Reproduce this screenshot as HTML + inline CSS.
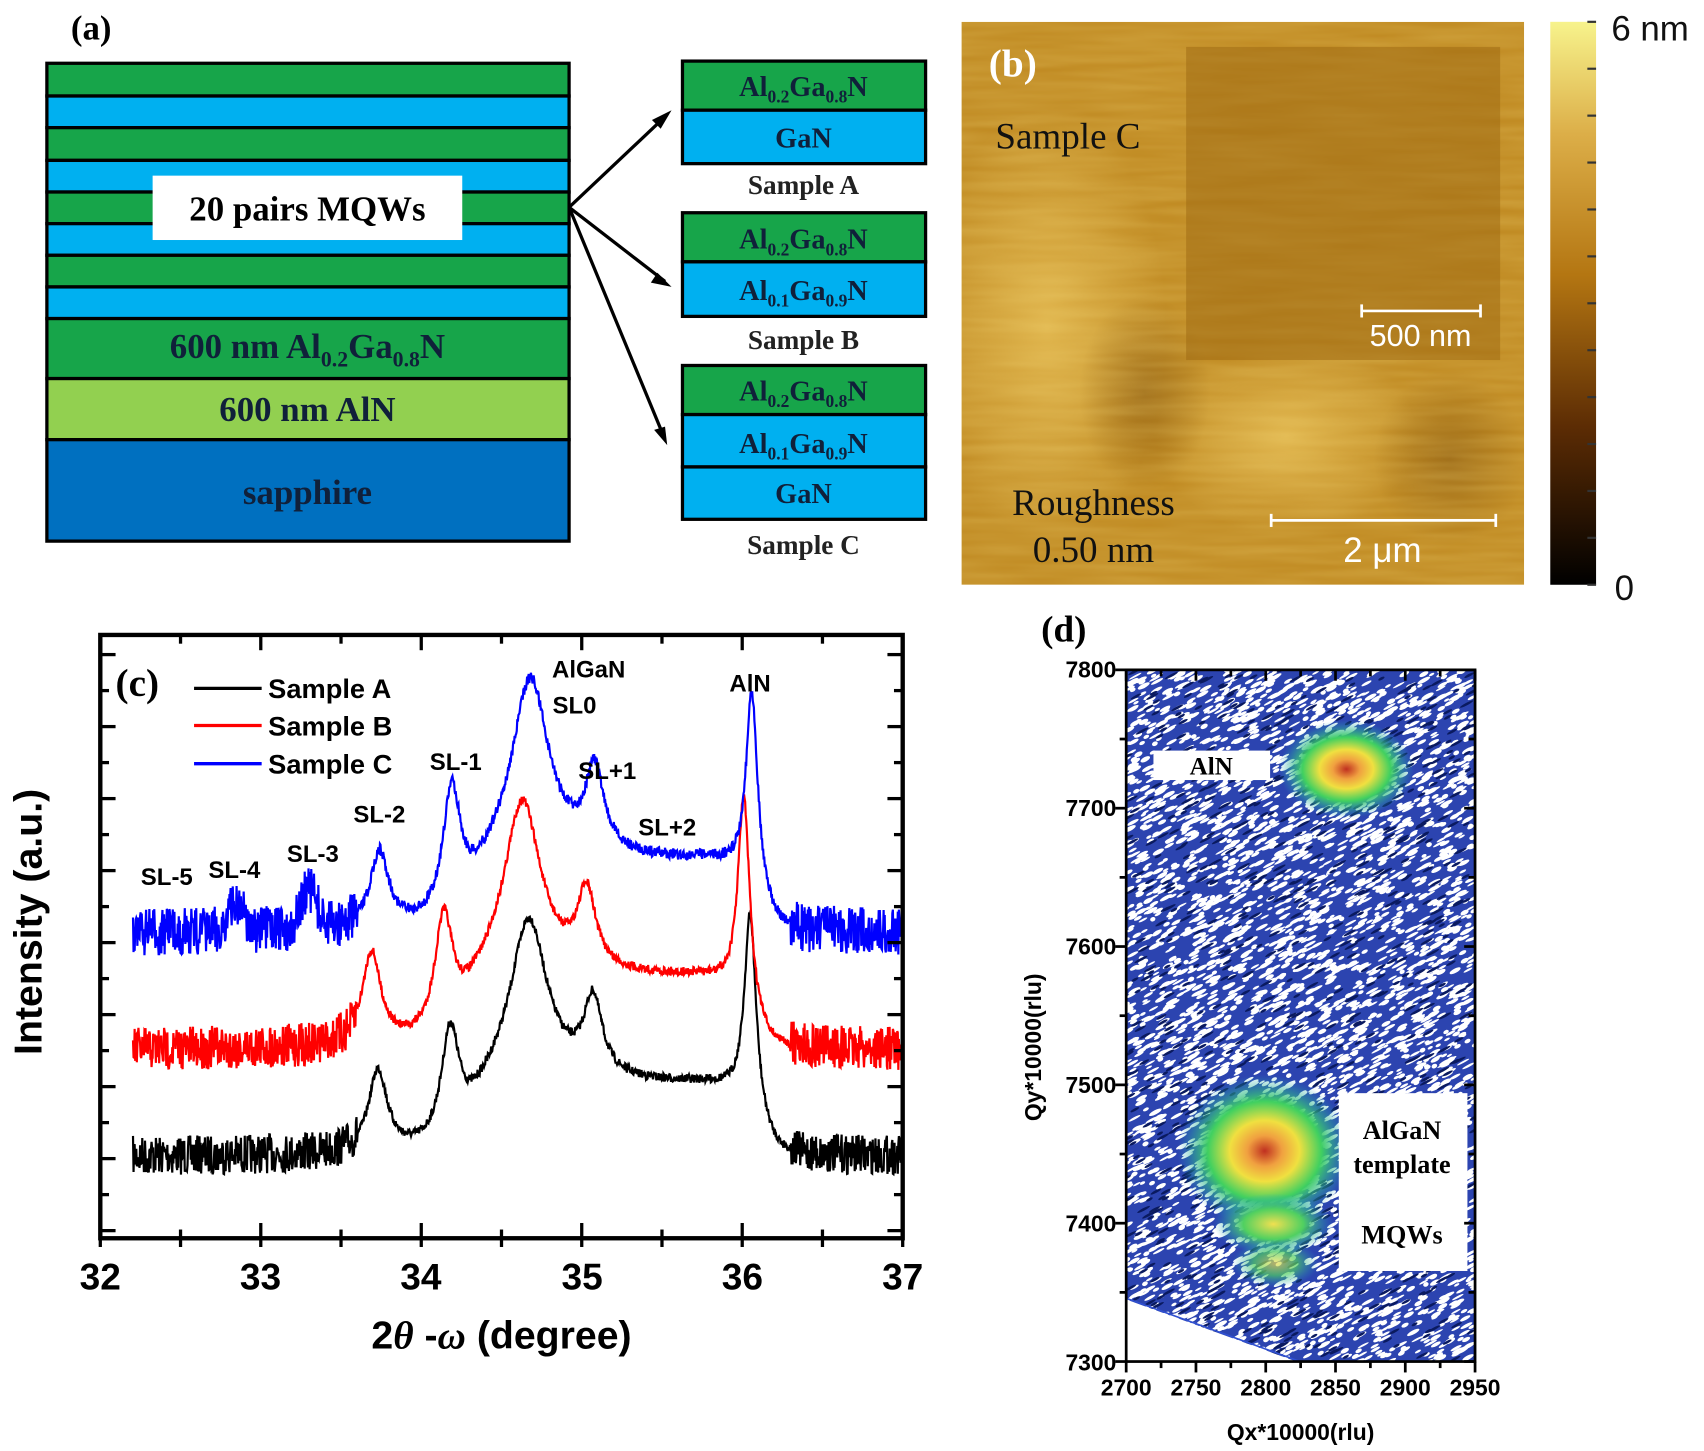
<!DOCTYPE html>
<html><head><meta charset="utf-8"><style>
html,body{margin:0;padding:0;background:#fff;}
svg{display:block}
.sf{font-family:"Liberation Serif",serif;font-weight:bold}
.ss{font-family:"Liberation Sans",sans-serif;font-weight:bold}
</style></head><body>
<svg id="s" width="1704" height="1451" viewBox="0 0 1563 1330" preserveAspectRatio="none" xmlns="http://www.w3.org/2000/svg">
<defs>
<linearGradient id="cb" x1="0" y1="0" x2="0" y2="1">
<stop offset="0" stop-color="#f7f38c"/><stop offset="0.2" stop-color="#dcae48"/><stop offset="0.45" stop-color="#b47612"/><stop offset="0.72" stop-color="#5c2c04"/><stop offset="1" stop-color="#000"/>
</linearGradient>
<radialGradient id="lt"><stop offset="0" stop-color="#e8c058" stop-opacity="0.8"/><stop offset="1" stop-color="#e8c058" stop-opacity="0"/></radialGradient>
<radialGradient id="dk"><stop offset="0" stop-color="#7a4a08" stop-opacity="0.5"/><stop offset="1" stop-color="#7a4a08" stop-opacity="0"/></radialGradient>
<radialGradient id="hs"><stop offset="0" stop-color="#c03020"/><stop offset="0.2" stop-color="#f0a040"/><stop offset="0.4" stop-color="#f0e040"/><stop offset="0.65" stop-color="#40d060"/><stop offset="1" stop-color="#20a0c0" stop-opacity="0"/></radialGradient>
<radialGradient id="hg"><stop offset="0" stop-color="#f0e050"/><stop offset="0.5" stop-color="#50d060"/><stop offset="1" stop-color="#20a0c0" stop-opacity="0"/></radialGradient>
<filter id="tb" filterUnits="userSpaceOnUse" x="882" y="20" width="516" height="516"><feTurbulence type="fractalNoise" baseFrequency="0.01 0.12" numOctaves="2" seed="3"/><feColorMatrix values="0 0 0 0 0.9  0 0 0 0 0.7  0 0 0 0 0.2  0 0 0 0.35 -0.05"/></filter>
<clipPath id="dclip"><rect x="1033" y="614" width="320" height="634"/></clipPath>
<clipPath id="bclip"><rect x="882" y="20" width="516" height="516"/></clipPath>
</defs>

<!-- Panel a -->
<text x="65" y="36" class="sf" font-size="32">(a)</text>
<g stroke="#000" stroke-width="3">
<rect x="43" y="58" width="479" height="30" fill="#17a54a"/>
<rect x="43" y="88" width="479" height="29" fill="#00b0f0"/>
<rect x="43" y="117" width="479" height="30" fill="#17a54a"/>
<rect x="43" y="147" width="479" height="29" fill="#00b0f0"/>
<rect x="43" y="176" width="479" height="29" fill="#17a54a"/>
<rect x="43" y="205" width="479" height="29" fill="#00b0f0"/>
<rect x="43" y="234" width="479" height="29" fill="#17a54a"/>
<rect x="43" y="263" width="479" height="29" fill="#00b0f0"/>
<rect x="43" y="292" width="479" height="55" fill="#17a54a"/>
<rect x="43" y="347" width="479" height="56" fill="#92d050"/>
<rect x="43" y="403" width="479" height="93" fill="#0070c0"/>
</g>
<rect x="140" y="161" width="284" height="59" fill="#fff"/>
<text x="282" y="202" class="sf" font-size="32" text-anchor="middle">20 pairs MQWs</text>
<text x="282" y="328" class="sf" font-size="32" text-anchor="middle" fill="#10203a">600 nm Al<tspan font-size="20" dy="8">0.2</tspan><tspan dy="-8">Ga</tspan><tspan font-size="20" dy="8">0.8</tspan><tspan dy="-8">N</tspan></text>
<text x="282" y="386" class="sf" font-size="32" text-anchor="middle" fill="#10203a">600 nm AlN</text>
<text x="282" y="462" class="sf" font-size="32" text-anchor="middle" fill="#10203a">sapphire</text>
<g stroke="#000" stroke-width="3" fill="none">
<line x1="522" y1="190" x2="610" y2="107"/><line x1="522" y1="190" x2="610" y2="258"/><line x1="522" y1="190" x2="608" y2="398"/>
</g>
<g fill="#000">
<polygon points="616,101 598,110 606,118"/><polygon points="616,263 597,259 603,250"/><polygon points="612,408 600,394 610,391"/>
</g>
<g stroke="#000" stroke-width="3">
<rect x="626" y="56" width="223" height="45" fill="#17a54a"/><rect x="626" y="101" width="223" height="49" fill="#00b0f0"/>
<rect x="626" y="195" width="223" height="45" fill="#17a54a"/><rect x="626" y="240" width="223" height="50" fill="#00b0f0"/>
<rect x="626" y="335" width="223" height="45" fill="#17a54a"/><rect x="626" y="380" width="223" height="48" fill="#00b0f0"/><rect x="626" y="428" width="223" height="48" fill="#00b0f0"/>
</g>
<g class="sf" font-size="26" text-anchor="middle" fill="#10203a">
<text x="737" y="88">Al<tspan font-size="16" dy="6">0.2</tspan><tspan dy="-6">Ga</tspan><tspan font-size="16" dy="6">0.8</tspan><tspan dy="-6">N</tspan></text>
<text x="737" y="135">GaN</text>
<text x="737" y="228">Al<tspan font-size="16" dy="6">0.2</tspan><tspan dy="-6">Ga</tspan><tspan font-size="16" dy="6">0.8</tspan><tspan dy="-6">N</tspan></text>
<text x="737" y="275">Al<tspan font-size="16" dy="6">0.1</tspan><tspan dy="-6">Ga</tspan><tspan font-size="16" dy="6">0.9</tspan><tspan dy="-6">N</tspan></text>
<text x="737" y="367">Al<tspan font-size="16" dy="6">0.2</tspan><tspan dy="-6">Ga</tspan><tspan font-size="16" dy="6">0.8</tspan><tspan dy="-6">N</tspan></text>
<text x="737" y="415">Al<tspan font-size="16" dy="6">0.1</tspan><tspan dy="-6">Ga</tspan><tspan font-size="16" dy="6">0.9</tspan><tspan dy="-6">N</tspan></text>
<text x="737" y="461">GaN</text>
</g>
<g class="sf" font-size="25" text-anchor="middle" fill="#222">
<text x="737" y="178">Sample A</text><text x="737" y="320">Sample B</text><text x="737" y="508">Sample C</text>
</g>

<!-- Panel b -->
<g clip-path="url(#bclip)">
<rect x="882" y="20" width="516" height="516" fill="#c08a22"/>
<ellipse cx="960" cy="300" rx="110" ry="200" fill="url(#lt)"/>
<ellipse cx="1180" cy="400" rx="120" ry="90" fill="url(#lt)"/>
<ellipse cx="1330" cy="420" rx="70" ry="80" fill="url(#dk)"/>
<ellipse cx="1050" cy="360" rx="60" ry="90" fill="url(#dk)"/>
<rect x="882" y="20" width="516" height="516" filter="url(#tb)"/>
<rect x="1088" y="43" width="288" height="287" fill="#9c6812" opacity="0.5"/>
</g>
<text x="907" y="70" class="sf" font-size="36" fill="#fff">(b)</text>
<text x="913" y="136" font-family="Liberation Serif,serif" font-size="34" fill="#111">Sample C</text>
<text x="1003" y="472" font-family="Liberation Serif,serif" font-size="34" fill="#111" text-anchor="middle">Roughness</text>
<text x="1003" y="515" font-family="Liberation Serif,serif" font-size="34" fill="#111" text-anchor="middle">0.50 nm</text>
<g stroke="#fff" stroke-width="2.5"><line x1="1249" y1="285" x2="1358" y2="285"/><line x1="1249" y1="279" x2="1249" y2="291"/><line x1="1358" y1="279" x2="1358" y2="291"/>
<line x1="1166" y1="477" x2="1372" y2="477"/><line x1="1166" y1="471" x2="1166" y2="483"/><line x1="1372" y1="471" x2="1372" y2="483"/></g>
<text x="1303" y="317" font-family="Liberation Sans,sans-serif" font-size="28" fill="#fff" text-anchor="middle">500 nm</text>
<text x="1268" y="515" font-family="Liberation Sans,sans-serif" font-size="32" fill="#fff" text-anchor="middle">2 μm</text>
<rect x="1422" y="20" width="42" height="516" fill="url(#cb)"/>
<g id="cbt" stroke="#333" stroke-width="2"></g>
<text x="1478" y="37" font-family="Liberation Sans,sans-serif" font-size="32" fill="#111">6 nm</text>
<text x="1481" y="550" font-family="Liberation Sans,sans-serif" font-size="32" fill="#111">0</text>

<!-- Panel c -->
<g id="curves" fill="none" stroke-width="2"></g>
<rect x="92" y="582" width="736" height="553" fill="none" stroke="#000" stroke-width="4"/>
<g id="cticks" stroke="#000" stroke-width="3"></g>
<g class="ss" font-size="34" text-anchor="middle">
<text x="92" y="1182">32</text><text x="239" y="1182">33</text><text x="386" y="1182">34</text><text x="534" y="1182">35</text><text x="681" y="1182">36</text><text x="828" y="1182">37</text>
</g>
<text x="460" y="1236" class="ss" font-size="36" text-anchor="middle">2<tspan font-family="Liberation Serif,serif" font-style="italic">θ</tspan> -<tspan font-family="Liberation Serif,serif" font-style="italic">ω</tspan> (degree)</text>
<text transform="translate(38,845) rotate(-90)" class="ss" font-size="36" text-anchor="middle">Intensity (a.u.)</text>
<text x="106" y="638" class="sf" font-size="36">(c)</text>
<g stroke-width="3"><line x1="178" y1="631" x2="240" y2="631" stroke="#000"/><line x1="178" y1="665" x2="240" y2="665" stroke="#f00"/><line x1="178" y1="700" x2="240" y2="700" stroke="#00f"/></g>
<g class="ss" font-size="25"><text x="246" y="640">Sample A</text><text x="246" y="674">Sample B</text><text x="246" y="709">Sample C</text></g>
<g class="ss" font-size="22" text-anchor="middle">
<text x="153" y="811">SL-5</text><text x="215" y="805">SL-4</text><text x="287" y="790">SL-3</text><text x="348" y="754">SL-2</text><text x="418" y="706">SL-1</text><text x="540" y="621">AlGaN</text><text x="527" y="654">SL0</text><text x="557" y="714">SL+1</text><text x="612" y="766">SL+2</text><text x="688" y="634">AlN</text>
</g>

<!-- Panel d -->
<text x="955" y="588" class="sf" font-size="34">(d)</text>
<g clip-path="url(#dclip)">
<rect x="1033" y="614" width="320" height="634" fill="#2c44b0"/>
<g id="rsm"></g>
<ellipse cx="1235" cy="705" rx="62" ry="45" fill="url(#hs)"/>
<ellipse cx="1160" cy="1055" rx="80" ry="70" fill="url(#hs)"/>
<ellipse cx="1168" cy="1122" rx="55" ry="28" fill="url(#hg)"/>
<ellipse cx="1170" cy="1158" rx="40" ry="22" fill="url(#hg)" opacity="0.7"/>
<polygon points="1030,1190 1200,1252 1030,1252" fill="#fff"/>
<line x1="1033" y1="1190" x2="1198" y2="1250" stroke="#3050d0" stroke-width="1.5"/>
</g>
<rect x="1058" y="688" width="107" height="27" fill="#fff"/>
<text x="1111" y="710" class="sf" font-size="23" text-anchor="middle">AlN</text>
<rect x="1228" y="1002" width="118" height="163" fill="#fff"/>
<g class="sf" font-size="24" text-anchor="middle"><text x="1286" y="1044">AlGaN</text><text x="1286" y="1075">template</text><text x="1286" y="1140">MQWs</text></g>
<rect x="1033" y="614" width="320" height="634" fill="none" stroke="#000" stroke-width="2.5"/>
<g id="dticks" stroke="#000" stroke-width="2.5"></g>
<g class="ss" font-size="21" text-anchor="end">
<text x="1024" y="621">7800</text><text x="1024" y="748">7700</text><text x="1024" y="875">7600</text><text x="1024" y="1002">7500</text><text x="1024" y="1129">7400</text><text x="1024" y="1256">7300</text>
</g>
<g class="ss" font-size="21" text-anchor="middle">
<text x="1033" y="1279">2700</text><text x="1097" y="1279">2750</text><text x="1161" y="1279">2800</text><text x="1225" y="1279">2850</text><text x="1289" y="1279">2900</text><text x="1353" y="1279">2950</text>
</g>
<text x="1193" y="1320" class="ss" font-size="21" text-anchor="middle">Qx*10000(rlu)</text>
<text transform="translate(955,960) rotate(-90)" class="ss" font-size="21" text-anchor="middle">Qy*10000(rlu)</text>
</svg>
<script>
var NS="http://www.w3.org/2000/svg";
function el(p,t,a){var e=document.createElementNS(NS,t);for(var k in a)e.setAttribute(k,a[k]);p.appendChild(e);return e;}
var seed=7;function rnd(){seed=(seed*16807)%2147483647;return seed/2147483647;}
var g=document.getElementById('cbt');
for(var i=0;i<=12;i++){var y=20+i*43;el(g,'line',{x1:1456,x2:1464,y1:y,y2:y});}
var ct=document.getElementById('cticks');
for(var v=32;v<=37.001;v+=0.5){var x=92+(v-32)*147.2;var L=(Math.abs(v-Math.round(v))<0.01)?14:8;el(ct,'line',{x1:x,x2:x,y1:1135,y2:1135-L});el(ct,'line',{x1:x,x2:x,y1:1135,y2:1143});el(ct,'line',{x1:x,x2:x,y1:582,y2:582+L});}
for(var y=600;y<1135;y+=33){var L=(Math.round((y-600)/33)%2==0)?14:8;el(ct,'line',{x1:92,x2:92+L,y1:y,y2:y});el(ct,'line',{x1:828,x2:828-L,y1:y,y2:y});}
function lor(x,x0,h,w){var d=(x-x0)/w;return h/(1+d*d);}
function curve(base,sh,P,hump,col,noiseLo,noiseHi,riseAt,bumps){
 var d="";
 for(var px=122;px<=826;px+=0.5){
  var x=32+(px-92)/147.2;
  var y=base;
  y-=hump*Math.exp(-Math.pow((x-(35.2+sh))/0.9,8));
  for(var i=0;i<P.length;i++)y-=lor(x,P[i][0]+sh,P[i][1],P[i][2]);
  if(bumps)for(var i=0;i<bumps.length;i++)y-=bumps[i][1]*Math.exp(-Math.pow((x-bumps[i][0])/0.07,2));
  var n=(x<riseAt||x>36.3)?noiseLo:noiseHi;
  y+=(rnd()-0.5)*2*n;
  d+=(px==122?"M":"L")+px+","+y.toFixed(1);
 }
 el(document.getElementById('curves'),'path',{d:d,stroke:col});
}
curve(1060,0,[[33.73,75,0.07],[34.18,105,0.07],[34.67,150,0.14],[35.07,70,0.07],[36.05,185,0.045]],65,"#000",18,4,33.6);
curve(962,-0.04,[[33.73,85,0.07],[34.18,110,0.07],[34.67,160,0.14],[35.07,70,0.07],[36.05,195,0.045]],65,"#f00",20,4,33.6);
curve(855,0.01,[[33.73,70,0.07],[34.18,120,0.07],[34.67,165,0.14],[35.07,75,0.07],[36.05,185,0.045]],65,"#00f",22,5,33.6,[[32.85,25],[33.3,35]]);
var dt=document.getElementById('dticks');
for(var i=0;i<=10;i++){var y=614+i*63.4;var L=i%2==0?10:6;el(dt,'line',{x1:1033,x2:1033-L,y1:y,y2:y});el(dt,'line',{x1:1353,x2:1353-L,y1:y,y2:y});}
for(var i=0;i<=10;i++){var x=1033+i*32;var L=i%2==0?10:6;el(dt,'line',{x1:x,x2:x,y1:1248,y2:1248+L});el(dt,'line',{x1:x,x2:x,y1:614,y2:614+L});}
var r=document.getElementById('rsm');
for(var i=0;i<4500;i++){var x=1033+rnd()*320,y=614+rnd()*634;
 el(r,'ellipse',{cx:x.toFixed(1),cy:y.toFixed(1),rx:(2.5+rnd()*4).toFixed(1),ry:(0.9+rnd()*1.2).toFixed(1),fill:'#fff',transform:'rotate(-28 '+x.toFixed(1)+' '+y.toFixed(1)+')'});}
for(var i=0;i<900;i++){var x=1033+rnd()*320,y=614+rnd()*634;
 el(r,'ellipse',{cx:x.toFixed(1),cy:y.toFixed(1),rx:(3+rnd()*4).toFixed(1),ry:'1.2',fill:'#0a1a60',transform:'rotate(-28 '+x.toFixed(1)+' '+y.toFixed(1)+')'});}
</script>
</body></html>
